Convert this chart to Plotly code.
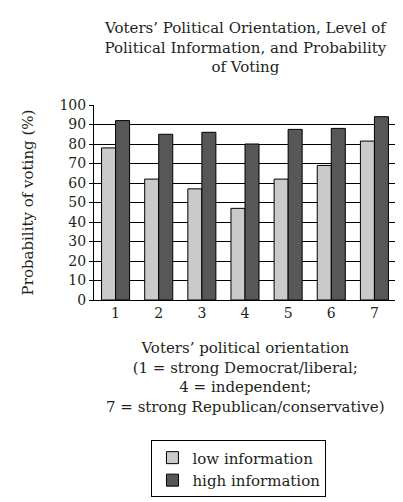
import plotly.graph_objects as go

categories = ["1", "2", "3", "4", "5", "6", "7"]
low_info = [78, 62, 57, 47, 62, 69, 81.5]
high_info = [92, 85, 86, 80, 87.5, 88, 94]
y_ticks = [0, 10, 20, 30, 40, 50, 60, 70, 80, 90, 100]

serif = "DejaVu Serif, Liberation Serif, serif"

fig = go.Figure()
fig.add_trace(go.Bar(x=categories, y=low_info, name="low information",
                     marker=dict(color="#c9cbc9", line=dict(color="black", width=1))))
fig.add_trace(go.Bar(x=categories, y=high_info, name="high information",
                     marker=dict(color="#575658", line=dict(color="black", width=1))))

fig.update_layout(
    width=403, height=502,
    margin=dict(l=86, r=15, t=97, b=205),
    paper_bgcolor="white", plot_bgcolor="white",
    font=dict(family=serif, size=14, color="#231f20"),
    barmode="group", bargap=0.35, bargroupgap=0,
    legend=dict(x=0.48, xanchor="center", y=-0.72, yanchor="top",
                bordercolor="black", borderwidth=1, font=dict(size=15),
                traceorder="normal", itemwidth=30, tracegroupgap=0),
    showlegend=True,
)
fig.update_yaxes(range=[0, 100], tickvals=y_ticks, showgrid=True, gridcolor="black", gridwidth=1,
                 showline=True, linecolor="black", linewidth=1,
                 ticks="outside", ticklen=4, tickcolor="black",
                 tickfont=dict(size=14),
                 title=dict(text="Probability of voting (%)", standoff=22, font=dict(size=15)),
                 zeroline=False)
fig.update_xaxes(showline=True, linecolor="black", linewidth=1, ticks="", showgrid=False,
                 tickfont=dict(size=14))

# chart title
fig.add_annotation(text="Voters\u2019 Political Orientation, Level of<br>Political Information, and Probability<br>of Voting",
                   xref="paper", yref="paper", x=0.5, y=1 + (97 - 7) / 200, xanchor="center", yanchor="top",
                   showarrow=False, font=dict(size=15), align="center")

# x axis title
fig.add_annotation(text="Voters\u2019 political orientation<br>(1 = strong Democrat/liberal;<br>4 = independent;<br>7 = strong Republican/conservative)",
                   xref="paper", yref="paper", x=0.5, y=0, xanchor="center", yanchor="top",
                   yshift=-37, showarrow=False, font=dict(size=15), align="center")

fig.write_html("out.html")
